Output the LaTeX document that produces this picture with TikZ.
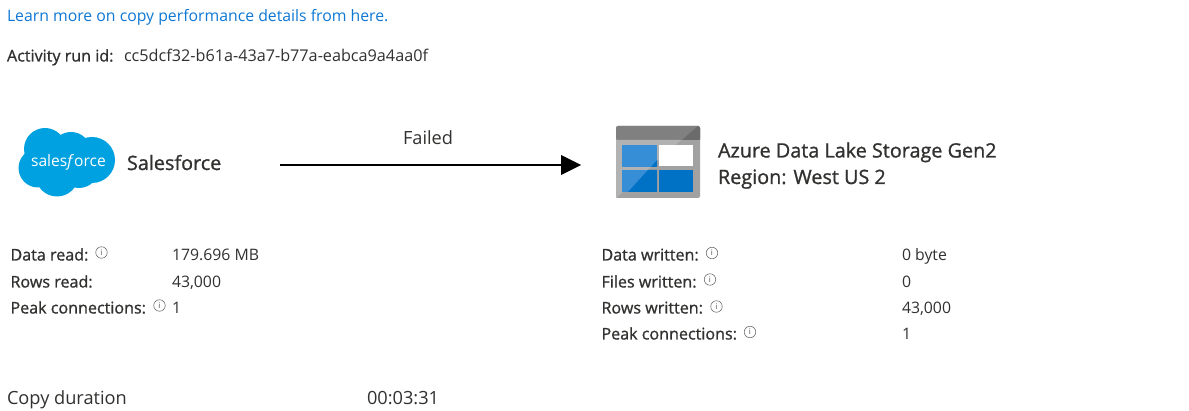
\documentclass[tikz,border=0pt]{standalone}
\usepackage{fontspec}
\setmainfont{Open Sans}
\newfontfamily\medfont{Open Sans}[FakeBold=1]
\definecolor{ink}{HTML}{323130}
\definecolor{linkblue}{HTML}{0F78D4}
\definecolor{sfblue}{HTML}{00A1E0}
\definecolor{paneA}{HTML}{368FD6}
\definecolor{paneB}{HTML}{0072C6}
\tikzset{
  txt/.style={anchor=base west,inner sep=0pt,outer sep=0pt,text=ink},
  small/.style={txt,font=\fontsize{15.8}{18}\selectfont},
  label/.style={txt,font=\fontsize{16.1}{18}\selectfont\medfont},
  big/.style={txt,font=\fontsize{18.2}{22}\selectfont},
  title/.style={txt,font=\fontsize{19.8}{22}\selectfont\medfont},
  infoicon/.style={circle,draw=ink!75,line width=0.55pt,minimum size=11.5pt,inner sep=0pt,text=ink!85,font=\fontsize{8}{8}\selectfont},
}
\begin{document}
\begin{tikzpicture}[x=1pt,y=-1pt]
\useasboundingbox[fill=white] (0,0) rectangle (1189,411);
\node[small,text=linkblue] (link) at (7,21.5) {Learn more on copy performance details from here.};
\node[label] (runlabel) at (7,61.5) {Activity run id:};
\node[small,font=\fontsize{16.2}{18}\selectfont] (runid) at (124,61.5) {cc5dcf32-b61a-43a7-b77a-eabca9a4aa0f};
% Salesforce cloud
\fill[sfblue] (45,149) circle (21) (71,152) circle (20) (92,160) circle (23)
  (38,168) circle (19.5) (57,175) circle (21.5) (79,168) circle (20);
\node[anchor=base,inner sep=0pt,text=white,font=\fontsize{15.6}{16}\selectfont] (sfmark) at (68.5,166.5) {sales\textit{f}orce};
\node[title] (sfname) at (127,170) {Salesforce};
% Arrow
\coordinate (arrowstart) at (280,165);
\coordinate (arrowend) at (581,165);
\node[big] (failed) at (403,144.5) {Failed};
\draw[line width=2pt,black] (arrowstart) -- (562,165);
\fill[black] (arrowend) -- (561,155) -- (561,175) -- cycle;
% ADLS icon
\fill[rounded corners=2pt,fill=black!37] (616,126) rectangle (700,198);
\fill[rounded corners=2pt,fill=black!50] (616,140) -- (616,126) -- (700,126) -- (700,140) -- cycle;
\fill[black!58] (682,140) -- (698,126) -- (700,128) -- (700,140) -- cycle;
\fill[black!30] (616,140) -- (681,140) -- (616,198) -- cycle;
\fill[paneA] (622,145) rectangle (657,167);
\fill[white] (659,145) rectangle (693,166);
\fill[paneA] (622,170) rectangle (657,192);
\fill[paneB] (659,170) rectangle (693,192);
\fill[paneB] (657,167) -- (657,160) -- (651,167) -- cycle;
\fill[paneB] (628,192) -- (648,170) -- (657,170) -- (657,192) -- cycle;
\node[title] (adls1) at (718,157.5) {Azure Data Lake Storage Gen2};
\node[title] (adls2) at (718,184) {Region: West US 2};
% Source metrics
\node[label] (l1) at (10.5,260.5) {Data read:};
\node[infoicon] (i1) at (101.5,252.5) {i};
\node[small] (v1) at (172,260.5) {179.696 MB};
\node[label] (l2) at (10.5,287.5) {Rows read:};
\node[small] (v2) at (172,287.5) {43,000};
\node[label] (l3) at (10.5,313.5) {Peak connections:};
\node[infoicon] (i3) at (159.5,305.5) {i};
\node[small] (v3) at (172,313.5) {1};
% Sink metrics
\node[label] (r1) at (601.5,260.5) {Data written:};
\node[infoicon] (j1) at (712,253) {i};
\node[small] (w1) at (902,260.5) {0 byte};
\node[label] (r2) at (601.5,287.5) {Files written:};
\node[infoicon] (j2) at (710,279.5) {i};
\node[small] (w2) at (902,287.5) {0};
\node[label] (r3) at (601.5,313.5) {Rows written:};
\node[infoicon] (j3) at (716.5,306.5) {i};
\node[small] (w3) at (902,313.5) {43,000};
\node[label] (r4) at (601.5,339.5) {Peak connections:};
\node[infoicon] (j4) at (750,332) {i};
\node[small] (w4) at (902,339.5) {1};
% Duration
\node[big] (d1) at (7,404.5) {Copy duration};
\node[big] (d2) at (367,404.5) {00:03:31};
\end{tikzpicture}
\end{document}
